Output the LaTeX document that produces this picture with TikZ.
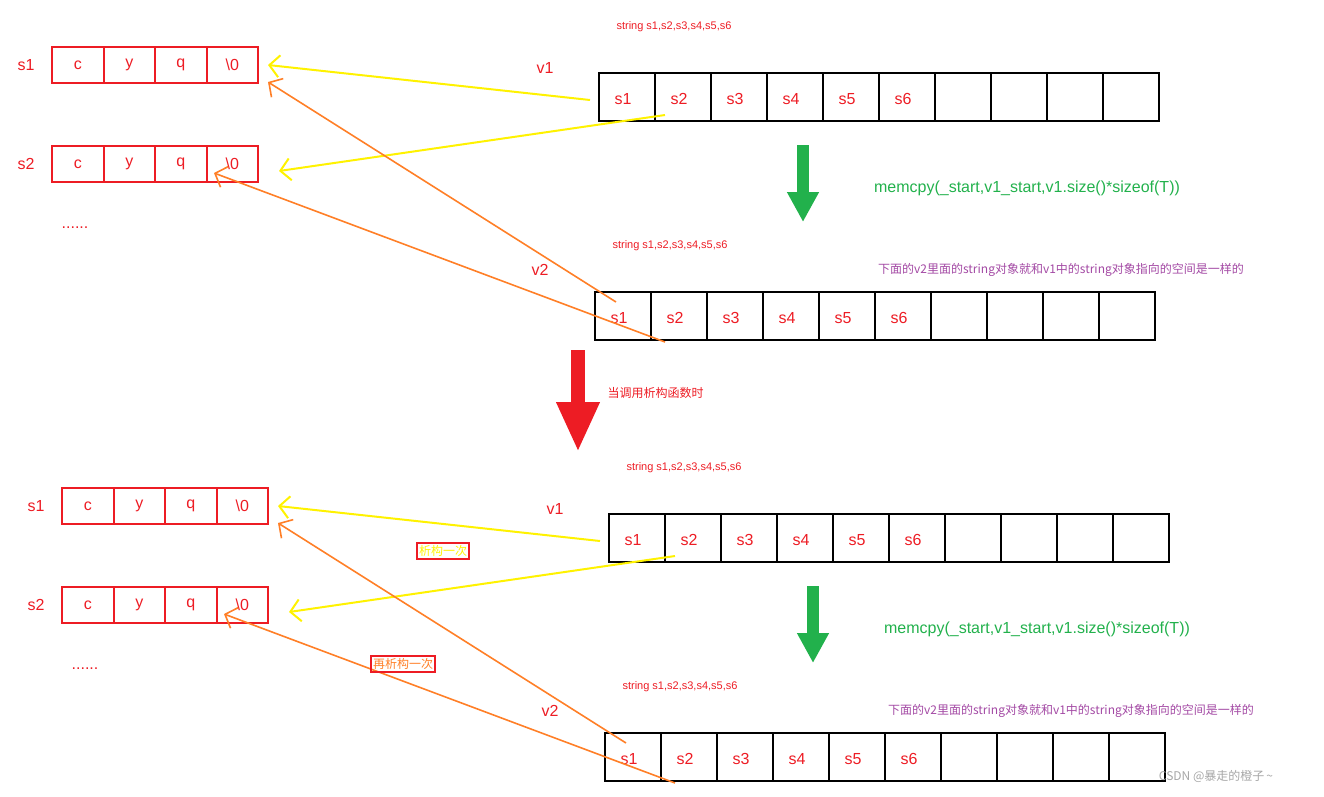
\documentclass[tikz,border=0pt]{standalone}
\usepackage{fontspec}
\setmainfont{Liberation Sans}
\newfontfamily\cjk{Noto Sans CJK SC}
\usetikzlibrary{arrows.meta}
\definecolor{rd}{RGB}{237,28,36}
\definecolor{yl}{RGB}{255,242,0}
\definecolor{og}{RGB}{255,127,39}
\definecolor{gn}{RGB}{34,177,76}
\definecolor{pp}{RGB}{163,73,164}
\begin{document}
\begin{tikzpicture}[x=1pt,y=-1pt,
  cell/.style={draw=rd,line width=2pt,minimum width=51.5pt,minimum height=36pt,inner sep=0pt,font=\fontsize{16}{16}\selectfont,text=rd},
  vcell/.style={draw=black,line width=1.6pt,minimum width=56pt,minimum height=48pt,inner sep=0pt},
  lbl/.style={text=rd,font=\fontsize{16}{16}\selectfont},
  small/.style={text=rd,font=\fontsize{11}{11}\selectfont},
  ya/.style={yl,line width=2pt,-{Straight Barb[length=10pt,width=22pt]}},
  oa/.style={og,line width=1.6pt,-{Straight Barb[length=10pt,width=22pt]}},
  fat/.style={line width=12pt,-{Triangle[length=30pt,width=30pt]}}]
\useasboundingbox (0,0) rectangle (1324,796);
\foreach \half/\dx/\dy in {t/0/0,b/10/441}{
  \begin{scope}[shift={(\dx,\dy)}]
  % string boxes
  \foreach \r/\yy in {1/65,2/164}{
    \foreach \t [count=\i] in {c,y,q,\textbackslash 0}
      \node[cell] (\half\r\i) at (77.75+51.5*\i-51.5,\yy) {\t};
    \node[lbl] (\half l\r) at (26,\yy) {s\r};
  }
  \node[lbl] (\half dots) at (75,228) {......};
  % vectors
  \foreach \v/\x/\yy in {1/627/97,2/623/316}{
    \foreach \i in {1,...,10}
      \node[vcell] (\half v\v c\i) at (\x+56*\i-56,\yy) {};
    \foreach \i in {1,...,6}
      \node[lbl] (\half v\v t\i) at (\x+56*\i-60,\yy+2) {s\i};
  }
  \node[lbl] (\half v1l) at (545,68) {v1};
  \node[lbl] (\half v2l) at (540,270) {v2};
  \node[small] (\half st1) at (674,27) {string s1,s2,s3,s4,s5,s6};
  \node[small] (\half st2) at (670,246) {string s1,s2,s3,s4,s5,s6};
  \node[text=pp,font=\cjk\fontsize{12}{12}\selectfont] (\half note) at (1061,270) {下面的v2里面的string对象就和v1中的string对象指向的空间是一样的};
  \node[text=gn,font=\fontsize{16}{16}\selectfont] (\half mc) at (1027,188) {memcpy(\_start,v1\_start,v1.size()*sizeof(T))};
  \coordinate (\half gs) at (803,145);
  \coordinate (\half ge) at (803,222);
  \draw[gn,fat] (\half gs) -- (\half ge);
  % pointers
  \coordinate (\half y1s) at (590,100);
  \coordinate (\half y2s) at (665,115);
  \coordinate (\half o1s) at (616,302);
  \coordinate (\half o2s) at (665,342);
  \draw[ya] (\half y1s) -- ([xshift=9pt]\half14.east);
  \draw[ya] (\half y2s) -- ([xshift=20pt,yshift=-7pt]\half24.east);
  \draw[oa] (\half o1s) -- ([xshift=9pt,yshift=2pt]\half14.south east);
  \draw[oa] (\half o2s) -- ([xshift=-45pt,yshift=10pt]\half24.south east);
  \end{scope}
}
\node[draw=rd,line width=2pt,text=yl,font=\cjk\fontsize{12}{12}\selectfont,inner sep=2pt] (d1) at (443,551) {析构一次};
\node[draw=rd,line width=2pt,text=og,font=\cjk\fontsize{12}{12}\selectfont,inner sep=2pt] (d2) at (403,664) {再析构一次};
\coordinate (rs) at (578,350);
\coordinate (re) at (578,452);
\draw[rd,line width=14pt,-{Triangle[length=50pt,width=40pt]}] (rs) -- (re);
\node[text=rd,font=\cjk\fontsize{12}{12}\selectfont,anchor=west] (call) at (604,393) {当调用析构函数时};
\node[text=gray!70,font=\cjk\fontsize{12}{12}\selectfont] (wm) at (1216,776) {CSDN @暴走的橙子\,\textasciitilde};
\end{tikzpicture}
\end{document}
